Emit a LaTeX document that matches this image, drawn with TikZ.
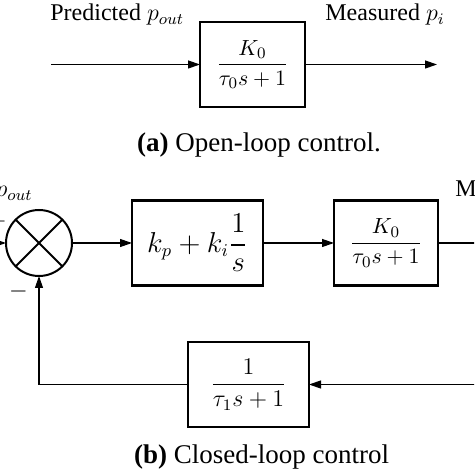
\documentclass[tikz,border=0pt]{standalone}
\usepackage{amsmath}
\usepackage{fontspec}
\setmainfont{Liberation Serif}
\usetikzlibrary{positioning}
\usetikzlibrary{arrows.meta}

\tikzset{
  block/.style={draw, line width=1.2pt, minimum height=42.5pt, inner sep=0pt, outer sep=0pt, font=\fontsize{11}{13}\selectfont},
  signal/.style={line width=0.6pt, -{Triangle[length=6pt,width=4pt]}},
  wire/.style={line width=0.6pt},
  lbl/.style={font=\fontsize{12}{14}\selectfont, inner sep=0pt},
  capt/.style={font=\fontsize{13.5}{16}\selectfont, inner sep=0pt}
}

\begin{document}
\begin{tikzpicture}[x=0.5pt,y=-0.5pt]
  \useasboundingbox (0,0) rectangle (474,474);
  \clip (0,0) rectangle (474,474);

  % (a) open loop
  \node[block, minimum width=52.5pt] (plantA) at (252.5,64.5) {$\dfrac{K_0}{\tau_0 s+1}$};
  \coordinate (inA) at (51,64.5);
  \coordinate (outA) at (437,64.5);
  \draw[signal] (inA) -- (plantA);
  \draw[signal] (plantA) -- (outA);
  \node[lbl, anchor=base west] (predA) at (50,21) {Predicted $p_{out}$};
  \node[lbl, anchor=base west] (measA) at (325,21) {Measured $p_i$};
  \node[capt, anchor=base] (captA) at (259,152) {\textbf{(a)} Open-loop control.};

  % (b) closed loop
  \node[draw, circle, line width=1pt, minimum size=33pt, inner sep=0pt, outer sep=0pt] (sum) at (39,243) {};
  \draw[line width=1pt] (sum.45) -- (sum.225) (sum.135) -- (sum.315);
  \node[block, minimum width=65.5pt, right=30pt of sum] (pi) {\fontsize{13.5}{16}\selectfont$k_p + k_i\dfrac{1}{s}$};
  \node[block, minimum width=52pt, right=35.5pt of pi] (plantB) {$\dfrac{K_0}{\tau_0 s+1}$};
  \node[block, minimum width=60.5pt] (filt) at (248.5,384.5) {\fontsize{12}{14}\selectfont$\dfrac{1}{\tau_1 s+1}$};
  \coordinate (inB) at (-20,243);
  \coordinate (tap) at (490,243);
  \node[lbl, anchor=base east] (predB) at (33,197) {Predicted $p_{out}$};
  \node[lbl, anchor=base west] (measB) at (455,197) {Measured $p_i$};
  \node[lbl] (plus) at (-3,222) {$+$};
  \node[lbl] (minus) at (18.5,292) {$-$};
  \draw[signal] (inB) -- (sum);
  \draw[signal] (sum) -- (pi);
  \draw[signal] (pi) -- (plantB);
  \draw[wire] (plantB) -- (tap);
  \draw[signal] (tap) |- (filt);
  \draw[signal] (filt.west) -| (sum.south);
  \node[capt, anchor=base] (captB) at (261.5,463) {\textbf{(b)} Closed-loop control};
\end{tikzpicture}
\end{document}
